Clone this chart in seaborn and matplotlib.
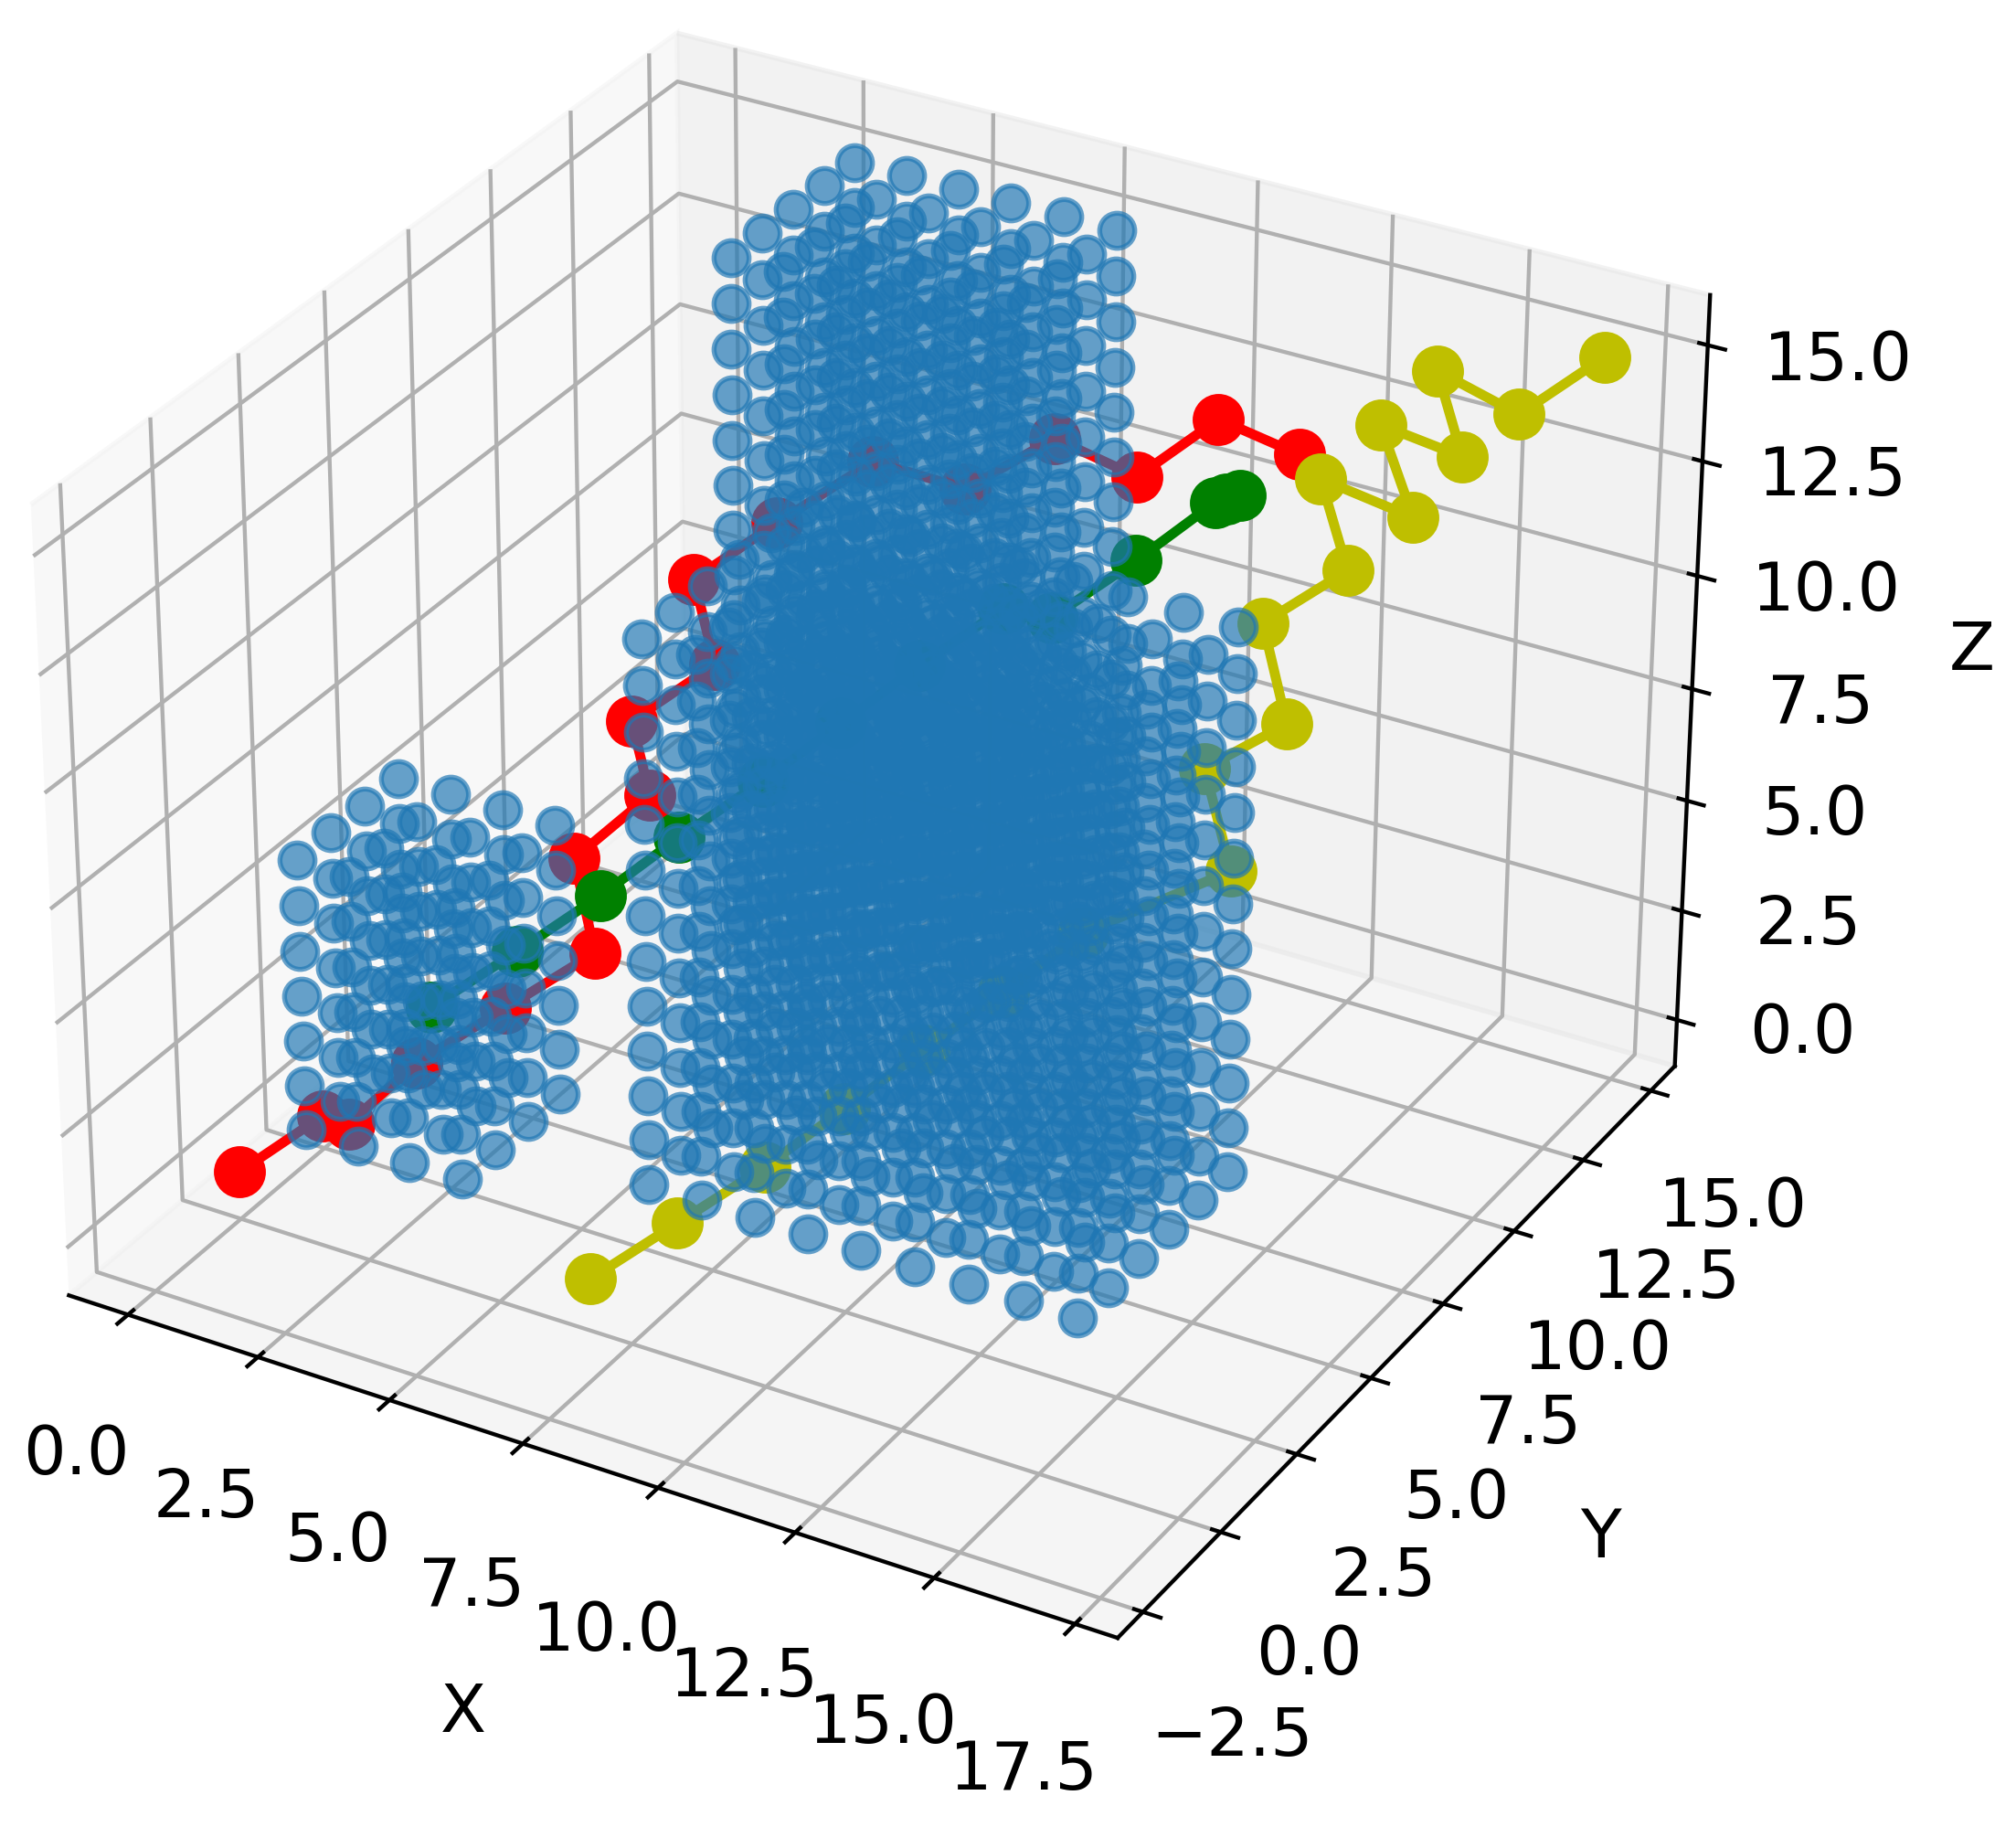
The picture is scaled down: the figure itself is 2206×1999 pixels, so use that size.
"""Planned paths through box obstacles, 3D view."""

import numpy as np
import matplotlib
matplotlib.use("Agg")
import matplotlib.pyplot as plt
import seaborn as sns

# ── DATA ──────────────────────────────────────────────────────────────────────

# obstacle grids: coordinates along each axis
SMALL_X = [1, 2, 3, 4]
SMALL_Y = [0.5, 1.5, 2.5, 3.5]
SMALL_Z = [1, 2, 3, 4, 5, 6, 7]

BIG_X = [6, 7, 8, 9, 10, 11, 12, 13, 14]
BIG_Y = [3, 4, 5, 6, 7, 8]
BIG_Z = [0, 1, 2, 3, 4, 5, 6, 7, 8, 9, 10, 11, 12]

REAR_X = [3, 4, 5, 6, 7, 8]
REAR_Y = [10.75, 11.75, 12.75, 13.75, 14.75]
REAR_Z = [0, 1, 2, 3, 4, 5, 6, 7, 8, 9, 10, 11, 12, 13, 14, 15]

RED_X = [0, 1, 1.5, 2.2, 3.3, 4.4, 3.4, 4.25, 3.3, 4.3, 3.3, 4.3, 5.55, 7.3, 8.4, 9.95, 10.9, 12.4]
RED_Y = [0, 1, 1, 2, 3, 4, 5, 6, 7, 8, 9, 10, 11, 11, 12, 12, 13, 13]
RED_Z = [0, 1, 1, 2, 3, 4, 5.15, 6.25, 7, 8, 9, 10, 11.2, 11.15, 12.05, 11.7, 12.7, 12.4]

GREEN_X = [1.85, 2.9, 3.9, 4.8, 5.8, 6.7, 7.6, 8.6, 9.5, 10.5, 11.4, 11.5, 11.65]
GREEN_Y = [3, 4, 5, 6, 7, 8, 9, 10, 10, 11, 12, 12.2, 12.4]
GREEN_Z = [2.5, 3.5, 4.5, 5.5, 6.5, 7.5, 8.5, 9.5, 9.6, 10.6, 11.6, 11.6, 11.6]

YELLOW_X = [6.1, 7.15, 8.2, 9.1, 10.0, 10.9, 11.8, 13.95, 12.9, 13.85, 12.85, 13.85, 12.8, 14.5, 13.35, 15.15, 14.15, 15.85, 16.85]
YELLOW_Y = [1, 2, 3, 4, 5, 6, 7, 8, 9, 10, 11, 12, 13, 13, 14, 13.4, 14.4, 14, 15]
YELLOW_Z = [-0.8, 0.2, 1.2, 2.2, 3.2, 4.2, 5.2, 6.7, 8, 8.7, 10, 10.9, 12, 11.7, 12.8, 13, 14, 13.8, 14.8]

X_TICKS = [0.0, 2.5, 5.0, 7.5, 10.0, 12.5, 15.0, 17.5]
Y_TICKS = [-2.5, 0.0, 2.5, 5.0, 7.5, 10.0, 12.5, 15.0]
Z_TICKS = [0.0, 2.5, 5.0, 7.5, 10.0, 12.5, 15.0]

# ── PLOT ──────────────────────────────────────────────────────────────────────

plt.rcParams['font.size'] = 13.5
blue = sns.color_palette("tab10")[0]

fig = plt.figure(figsize=(2206 / 390, 1999 / 390), dpi=390)
ax = fig.add_axes([-0.0837, 0.039, 1.022, 1.022], projection="3d")

ax.plot(RED_X, RED_Y, RED_Z, "r-o", markersize=9.5, linewidth=2)
ax.plot(GREEN_X, GREEN_Y, GREEN_Z, "g-o", markersize=9.5, linewidth=2)
ax.plot(YELLOW_X, YELLOW_Y, YELLOW_Z, "y-o", markersize=9.5, linewidth=2)

gx, gy, gz = [], [], []
for xs, ys, zs in [(SMALL_X, SMALL_Y, SMALL_Z), (BIG_X, BIG_Y, BIG_Z), (REAR_X, REAR_Y, REAR_Z)]:
    mx, my, mz = np.meshgrid(xs, ys, zs)
    gx.append(mx.ravel())
    gy.append(my.ravel())
    gz.append(mz.ravel())
ax.scatter(np.concatenate(gx), np.concatenate(gy), np.concatenate(gz), s=50, color=blue,
           alpha=0.68, depthshade=False)

ax.set_xlim(-1.15, 18.25)
ax.set_ylim(-3.3, 15.9)
ax.set_zlim(-1.07, 16.07)
ax.set_xticks(X_TICKS)
ax.set_yticks(Y_TICKS)
ax.set_zticks(Z_TICKS)
ax.tick_params(axis="x", pad=8)
ax.tick_params(axis="y", pad=8)
ax.tick_params(axis="z", pad=8)
ax.set_xlabel("X", labelpad=15)
ax.set_ylabel("Y", labelpad=15)
ax.set_zlabel("Z", labelpad=14)

plt.savefig("out.png", dpi=390)
